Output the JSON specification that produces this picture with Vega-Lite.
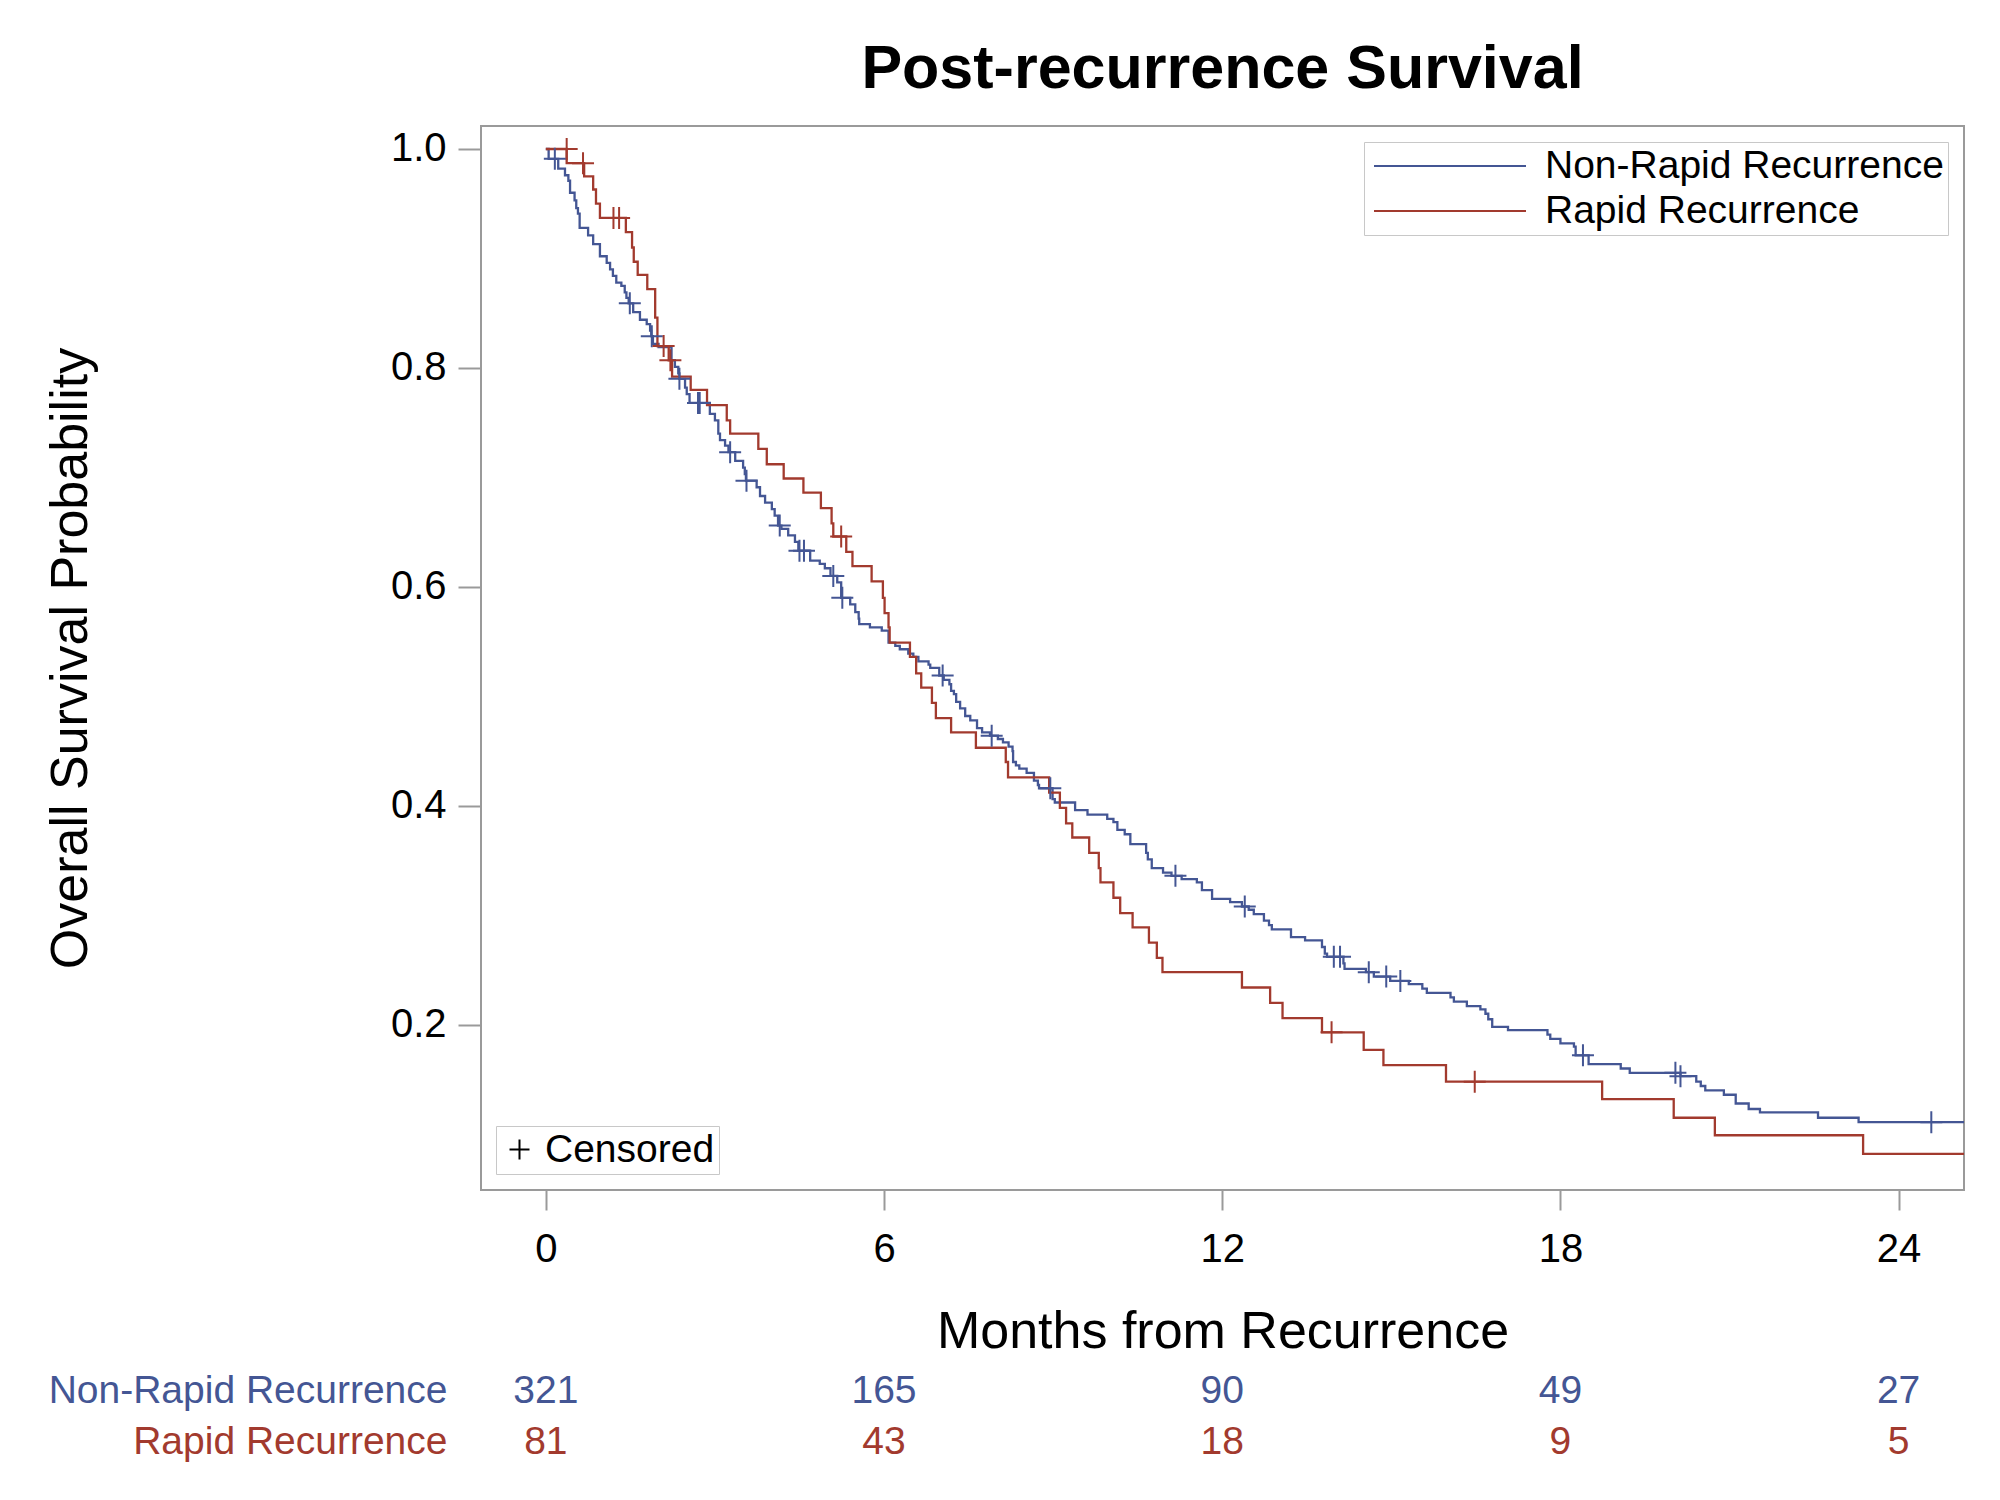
{
  "$schema": "https://vega.github.io/schema/vega-lite/v6.json",
  "description": "Kaplan-Meier curves of post-recurrence survival with numbers at risk",
  "background": "white",
  "padding": {"left": 43, "top": 38, "right": 30, "bottom": 20},
  "datasets": {
    "curves": [
      {"group": "Non-Rapid Recurrence", "month": 0, "survival": 1.0},
      {"group": "Non-Rapid Recurrence", "month": 0.05, "survival": 0.991},
      {"group": "Non-Rapid Recurrence", "month": 0.22, "survival": 0.982},
      {"group": "Non-Rapid Recurrence", "month": 0.34, "survival": 0.976},
      {"group": "Non-Rapid Recurrence", "month": 0.40, "survival": 0.971},
      {"group": "Non-Rapid Recurrence", "month": 0.43, "survival": 0.960},
      {"group": "Non-Rapid Recurrence", "month": 0.51, "survival": 0.953},
      {"group": "Non-Rapid Recurrence", "month": 0.54, "survival": 0.946},
      {"group": "Non-Rapid Recurrence", "month": 0.57, "survival": 0.941},
      {"group": "Non-Rapid Recurrence", "month": 0.60, "survival": 0.928},
      {"group": "Non-Rapid Recurrence", "month": 0.75, "survival": 0.921},
      {"group": "Non-Rapid Recurrence", "month": 0.84, "survival": 0.913},
      {"group": "Non-Rapid Recurrence", "month": 0.96, "survival": 0.902},
      {"group": "Non-Rapid Recurrence", "month": 1.08, "survival": 0.896},
      {"group": "Non-Rapid Recurrence", "month": 1.14, "survival": 0.890},
      {"group": "Non-Rapid Recurrence", "month": 1.19, "survival": 0.884},
      {"group": "Non-Rapid Recurrence", "month": 1.25, "survival": 0.878},
      {"group": "Non-Rapid Recurrence", "month": 1.34, "survival": 0.875},
      {"group": "Non-Rapid Recurrence", "month": 1.40, "survival": 0.869},
      {"group": "Non-Rapid Recurrence", "month": 1.43, "survival": 0.864},
      {"group": "Non-Rapid Recurrence", "month": 1.47, "survival": 0.859},
      {"group": "Non-Rapid Recurrence", "month": 1.55, "survival": 0.851},
      {"group": "Non-Rapid Recurrence", "month": 1.67, "survival": 0.844},
      {"group": "Non-Rapid Recurrence", "month": 1.79, "survival": 0.840},
      {"group": "Non-Rapid Recurrence", "month": 1.85, "survival": 0.834},
      {"group": "Non-Rapid Recurrence", "month": 1.87, "survival": 0.829},
      {"group": "Non-Rapid Recurrence", "month": 1.90, "survival": 0.822},
      {"group": "Non-Rapid Recurrence", "month": 2.00, "survival": 0.819},
      {"group": "Non-Rapid Recurrence", "month": 2.23, "survival": 0.807},
      {"group": "Non-Rapid Recurrence", "month": 2.29, "survival": 0.801},
      {"group": "Non-Rapid Recurrence", "month": 2.35, "survival": 0.795},
      {"group": "Non-Rapid Recurrence", "month": 2.37, "survival": 0.790},
      {"group": "Non-Rapid Recurrence", "month": 2.47, "survival": 0.782},
      {"group": "Non-Rapid Recurrence", "month": 2.50, "survival": 0.776},
      {"group": "Non-Rapid Recurrence", "month": 2.55, "survival": 0.768},
      {"group": "Non-Rapid Recurrence", "month": 2.91, "survival": 0.758},
      {"group": "Non-Rapid Recurrence", "month": 3.00, "survival": 0.752},
      {"group": "Non-Rapid Recurrence", "month": 3.06, "survival": 0.740},
      {"group": "Non-Rapid Recurrence", "month": 3.09, "survival": 0.734},
      {"group": "Non-Rapid Recurrence", "month": 3.18, "survival": 0.729},
      {"group": "Non-Rapid Recurrence", "month": 3.24, "survival": 0.723},
      {"group": "Non-Rapid Recurrence", "month": 3.36, "survival": 0.715},
      {"group": "Non-Rapid Recurrence", "month": 3.50, "survival": 0.709},
      {"group": "Non-Rapid Recurrence", "month": 3.53, "survival": 0.703},
      {"group": "Non-Rapid Recurrence", "month": 3.55, "survival": 0.697},
      {"group": "Non-Rapid Recurrence", "month": 3.74, "survival": 0.691},
      {"group": "Non-Rapid Recurrence", "month": 3.80, "survival": 0.683},
      {"group": "Non-Rapid Recurrence", "month": 3.89, "survival": 0.677},
      {"group": "Non-Rapid Recurrence", "month": 4.01, "survival": 0.671},
      {"group": "Non-Rapid Recurrence", "month": 4.06, "survival": 0.665},
      {"group": "Non-Rapid Recurrence", "month": 4.12, "survival": 0.656},
      {"group": "Non-Rapid Recurrence", "month": 4.18, "survival": 0.653},
      {"group": "Non-Rapid Recurrence", "month": 4.30, "survival": 0.647},
      {"group": "Non-Rapid Recurrence", "month": 4.42, "survival": 0.641},
      {"group": "Non-Rapid Recurrence", "month": 4.48, "survival": 0.633},
      {"group": "Non-Rapid Recurrence", "month": 4.69, "survival": 0.624},
      {"group": "Non-Rapid Recurrence", "month": 4.86, "survival": 0.621},
      {"group": "Non-Rapid Recurrence", "month": 4.95, "survival": 0.617},
      {"group": "Non-Rapid Recurrence", "month": 5.05, "survival": 0.610},
      {"group": "Non-Rapid Recurrence", "month": 5.17, "survival": 0.604},
      {"group": "Non-Rapid Recurrence", "month": 5.24, "survival": 0.590},
      {"group": "Non-Rapid Recurrence", "month": 5.40, "survival": 0.584},
      {"group": "Non-Rapid Recurrence", "month": 5.49, "survival": 0.577},
      {"group": "Non-Rapid Recurrence", "month": 5.55, "survival": 0.571},
      {"group": "Non-Rapid Recurrence", "month": 5.56, "survival": 0.566},
      {"group": "Non-Rapid Recurrence", "month": 5.75, "survival": 0.563},
      {"group": "Non-Rapid Recurrence", "month": 5.96, "survival": 0.560},
      {"group": "Non-Rapid Recurrence", "month": 6.08, "survival": 0.549},
      {"group": "Non-Rapid Recurrence", "month": 6.20, "survival": 0.546},
      {"group": "Non-Rapid Recurrence", "month": 6.28, "survival": 0.543},
      {"group": "Non-Rapid Recurrence", "month": 6.43, "survival": 0.539},
      {"group": "Non-Rapid Recurrence", "month": 6.52, "survival": 0.536},
      {"group": "Non-Rapid Recurrence", "month": 6.61, "survival": 0.532},
      {"group": "Non-Rapid Recurrence", "month": 6.79, "survival": 0.529},
      {"group": "Non-Rapid Recurrence", "month": 6.82, "survival": 0.526},
      {"group": "Non-Rapid Recurrence", "month": 6.98, "survival": 0.519},
      {"group": "Non-Rapid Recurrence", "month": 7.06, "survival": 0.515},
      {"group": "Non-Rapid Recurrence", "month": 7.16, "survival": 0.511},
      {"group": "Non-Rapid Recurrence", "month": 7.19, "survival": 0.505},
      {"group": "Non-Rapid Recurrence", "month": 7.24, "survival": 0.502},
      {"group": "Non-Rapid Recurrence", "month": 7.28, "survival": 0.495},
      {"group": "Non-Rapid Recurrence", "month": 7.35, "survival": 0.489},
      {"group": "Non-Rapid Recurrence", "month": 7.44, "survival": 0.482},
      {"group": "Non-Rapid Recurrence", "month": 7.53, "survival": 0.478},
      {"group": "Non-Rapid Recurrence", "month": 7.65, "survival": 0.471},
      {"group": "Non-Rapid Recurrence", "month": 7.74, "survival": 0.467},
      {"group": "Non-Rapid Recurrence", "month": 7.88, "survival": 0.464},
      {"group": "Non-Rapid Recurrence", "month": 8.02, "survival": 0.461},
      {"group": "Non-Rapid Recurrence", "month": 8.11, "survival": 0.458},
      {"group": "Non-Rapid Recurrence", "month": 8.21, "survival": 0.454},
      {"group": "Non-Rapid Recurrence", "month": 8.28, "survival": 0.450},
      {"group": "Non-Rapid Recurrence", "month": 8.29, "survival": 0.440},
      {"group": "Non-Rapid Recurrence", "month": 8.34, "survival": 0.437},
      {"group": "Non-Rapid Recurrence", "month": 8.40, "survival": 0.434},
      {"group": "Non-Rapid Recurrence", "month": 8.53, "survival": 0.430},
      {"group": "Non-Rapid Recurrence", "month": 8.66, "survival": 0.423},
      {"group": "Non-Rapid Recurrence", "month": 8.73, "survival": 0.419},
      {"group": "Non-Rapid Recurrence", "month": 8.75, "survival": 0.416},
      {"group": "Non-Rapid Recurrence", "month": 8.99, "survival": 0.406},
      {"group": "Non-Rapid Recurrence", "month": 9.03, "survival": 0.403},
      {"group": "Non-Rapid Recurrence", "month": 9.39, "survival": 0.396},
      {"group": "Non-Rapid Recurrence", "month": 9.61, "survival": 0.392},
      {"group": "Non-Rapid Recurrence", "month": 9.96, "survival": 0.388},
      {"group": "Non-Rapid Recurrence", "month": 10.07, "survival": 0.385},
      {"group": "Non-Rapid Recurrence", "month": 10.14, "survival": 0.378},
      {"group": "Non-Rapid Recurrence", "month": 10.27, "survival": 0.374},
      {"group": "Non-Rapid Recurrence", "month": 10.37, "survival": 0.365},
      {"group": "Non-Rapid Recurrence", "month": 10.65, "survival": 0.357},
      {"group": "Non-Rapid Recurrence", "month": 10.68, "survival": 0.351},
      {"group": "Non-Rapid Recurrence", "month": 10.75, "survival": 0.343},
      {"group": "Non-Rapid Recurrence", "month": 10.95, "survival": 0.339},
      {"group": "Non-Rapid Recurrence", "month": 11.10, "survival": 0.336},
      {"group": "Non-Rapid Recurrence", "month": 11.28, "survival": 0.333},
      {"group": "Non-Rapid Recurrence", "month": 11.55, "survival": 0.330},
      {"group": "Non-Rapid Recurrence", "month": 11.64, "survival": 0.323},
      {"group": "Non-Rapid Recurrence", "month": 11.82, "survival": 0.315},
      {"group": "Non-Rapid Recurrence", "month": 12.14, "survival": 0.312},
      {"group": "Non-Rapid Recurrence", "month": 12.35, "survival": 0.308},
      {"group": "Non-Rapid Recurrence", "month": 12.47, "survival": 0.305},
      {"group": "Non-Rapid Recurrence", "month": 12.56, "survival": 0.301},
      {"group": "Non-Rapid Recurrence", "month": 12.74, "survival": 0.295},
      {"group": "Non-Rapid Recurrence", "month": 12.83, "survival": 0.291},
      {"group": "Non-Rapid Recurrence", "month": 12.88, "survival": 0.287},
      {"group": "Non-Rapid Recurrence", "month": 13.22, "survival": 0.280},
      {"group": "Non-Rapid Recurrence", "month": 13.47, "survival": 0.277},
      {"group": "Non-Rapid Recurrence", "month": 13.77, "survival": 0.271},
      {"group": "Non-Rapid Recurrence", "month": 13.82, "survival": 0.265},
      {"group": "Non-Rapid Recurrence", "month": 13.86, "survival": 0.262},
      {"group": "Non-Rapid Recurrence", "month": 14.15, "survival": 0.256},
      {"group": "Non-Rapid Recurrence", "month": 14.17, "survival": 0.251},
      {"group": "Non-Rapid Recurrence", "month": 14.55, "survival": 0.248},
      {"group": "Non-Rapid Recurrence", "month": 14.69, "survival": 0.244},
      {"group": "Non-Rapid Recurrence", "month": 14.98, "survival": 0.240},
      {"group": "Non-Rapid Recurrence", "month": 15.31, "survival": 0.237},
      {"group": "Non-Rapid Recurrence", "month": 15.55, "survival": 0.233},
      {"group": "Non-Rapid Recurrence", "month": 15.63, "survival": 0.229},
      {"group": "Non-Rapid Recurrence", "month": 16.05, "survival": 0.225},
      {"group": "Non-Rapid Recurrence", "month": 16.11, "survival": 0.221},
      {"group": "Non-Rapid Recurrence", "month": 16.34, "survival": 0.217},
      {"group": "Non-Rapid Recurrence", "month": 16.58, "survival": 0.214},
      {"group": "Non-Rapid Recurrence", "month": 16.67, "survival": 0.210},
      {"group": "Non-Rapid Recurrence", "month": 16.72, "survival": 0.205},
      {"group": "Non-Rapid Recurrence", "month": 16.79, "survival": 0.198},
      {"group": "Non-Rapid Recurrence", "month": 17.07, "survival": 0.195},
      {"group": "Non-Rapid Recurrence", "month": 17.77, "survival": 0.191},
      {"group": "Non-Rapid Recurrence", "month": 17.82, "survival": 0.187},
      {"group": "Non-Rapid Recurrence", "month": 18.00, "survival": 0.183},
      {"group": "Non-Rapid Recurrence", "month": 18.24, "survival": 0.180},
      {"group": "Non-Rapid Recurrence", "month": 18.27, "survival": 0.172},
      {"group": "Non-Rapid Recurrence", "month": 18.50, "survival": 0.164},
      {"group": "Non-Rapid Recurrence", "month": 19.07, "survival": 0.160},
      {"group": "Non-Rapid Recurrence", "month": 19.23, "survival": 0.156},
      {"group": "Non-Rapid Recurrence", "month": 20.13, "survival": 0.153},
      {"group": "Non-Rapid Recurrence", "month": 20.41, "survival": 0.148},
      {"group": "Non-Rapid Recurrence", "month": 20.49, "survival": 0.144},
      {"group": "Non-Rapid Recurrence", "month": 20.57, "survival": 0.140},
      {"group": "Non-Rapid Recurrence", "month": 20.90, "survival": 0.136},
      {"group": "Non-Rapid Recurrence", "month": 21.11, "survival": 0.128},
      {"group": "Non-Rapid Recurrence", "month": 21.34, "survival": 0.123},
      {"group": "Non-Rapid Recurrence", "month": 21.54, "survival": 0.120},
      {"group": "Non-Rapid Recurrence", "month": 22.57, "survival": 0.115},
      {"group": "Non-Rapid Recurrence", "month": 23.29, "survival": 0.111},
      {"group": "Non-Rapid Recurrence", "month": 25.16, "survival": 0.111},
      {"group": "Rapid Recurrence", "month": 0, "survival": 1.0},
      {"group": "Rapid Recurrence", "month": 0.37, "survival": 0.987},
      {"group": "Rapid Recurrence", "month": 0.68, "survival": 0.975},
      {"group": "Rapid Recurrence", "month": 0.84, "survival": 0.963},
      {"group": "Rapid Recurrence", "month": 0.89, "survival": 0.950},
      {"group": "Rapid Recurrence", "month": 0.96, "survival": 0.937},
      {"group": "Rapid Recurrence", "month": 1.42, "survival": 0.924},
      {"group": "Rapid Recurrence", "month": 1.53, "survival": 0.910},
      {"group": "Rapid Recurrence", "month": 1.56, "survival": 0.897},
      {"group": "Rapid Recurrence", "month": 1.63, "survival": 0.885},
      {"group": "Rapid Recurrence", "month": 1.80, "survival": 0.872},
      {"group": "Rapid Recurrence", "month": 1.94, "survival": 0.846},
      {"group": "Rapid Recurrence", "month": 1.98, "survival": 0.820},
      {"group": "Rapid Recurrence", "month": 2.18, "survival": 0.807},
      {"group": "Rapid Recurrence", "month": 2.24, "survival": 0.792},
      {"group": "Rapid Recurrence", "month": 2.57, "survival": 0.780},
      {"group": "Rapid Recurrence", "month": 2.86, "survival": 0.766},
      {"group": "Rapid Recurrence", "month": 3.21, "survival": 0.752},
      {"group": "Rapid Recurrence", "month": 3.27, "survival": 0.740},
      {"group": "Rapid Recurrence", "month": 3.77, "survival": 0.726},
      {"group": "Rapid Recurrence", "month": 3.92, "survival": 0.712},
      {"group": "Rapid Recurrence", "month": 4.22, "survival": 0.699},
      {"group": "Rapid Recurrence", "month": 4.57, "survival": 0.686},
      {"group": "Rapid Recurrence", "month": 4.88, "survival": 0.672},
      {"group": "Rapid Recurrence", "month": 5.07, "survival": 0.658},
      {"group": "Rapid Recurrence", "month": 5.10, "survival": 0.646},
      {"group": "Rapid Recurrence", "month": 5.33, "survival": 0.632},
      {"group": "Rapid Recurrence", "month": 5.44, "survival": 0.619},
      {"group": "Rapid Recurrence", "month": 5.78, "survival": 0.605},
      {"group": "Rapid Recurrence", "month": 5.98, "survival": 0.590},
      {"group": "Rapid Recurrence", "month": 6.01, "survival": 0.576},
      {"group": "Rapid Recurrence", "month": 6.08, "survival": 0.563},
      {"group": "Rapid Recurrence", "month": 6.10, "survival": 0.549},
      {"group": "Rapid Recurrence", "month": 6.46, "survival": 0.536},
      {"group": "Rapid Recurrence", "month": 6.57, "survival": 0.521},
      {"group": "Rapid Recurrence", "month": 6.66, "survival": 0.508},
      {"group": "Rapid Recurrence", "month": 6.85, "survival": 0.494},
      {"group": "Rapid Recurrence", "month": 6.92, "survival": 0.480},
      {"group": "Rapid Recurrence", "month": 7.19, "survival": 0.467},
      {"group": "Rapid Recurrence", "month": 7.63, "survival": 0.453},
      {"group": "Rapid Recurrence", "month": 8.16, "survival": 0.440},
      {"group": "Rapid Recurrence", "month": 8.20, "survival": 0.426},
      {"group": "Rapid Recurrence", "month": 8.93, "survival": 0.412},
      {"group": "Rapid Recurrence", "month": 9.12, "survival": 0.398},
      {"group": "Rapid Recurrence", "month": 9.23, "survival": 0.384},
      {"group": "Rapid Recurrence", "month": 9.34, "survival": 0.371},
      {"group": "Rapid Recurrence", "month": 9.64, "survival": 0.357},
      {"group": "Rapid Recurrence", "month": 9.81, "survival": 0.343},
      {"group": "Rapid Recurrence", "month": 9.84, "survival": 0.330},
      {"group": "Rapid Recurrence", "month": 10.07, "survival": 0.316},
      {"group": "Rapid Recurrence", "month": 10.19, "survival": 0.302},
      {"group": "Rapid Recurrence", "month": 10.41, "survival": 0.289},
      {"group": "Rapid Recurrence", "month": 10.70, "survival": 0.275},
      {"group": "Rapid Recurrence", "month": 10.84, "survival": 0.261},
      {"group": "Rapid Recurrence", "month": 10.94, "survival": 0.248},
      {"group": "Rapid Recurrence", "month": 12.35, "survival": 0.234},
      {"group": "Rapid Recurrence", "month": 12.85, "survival": 0.220},
      {"group": "Rapid Recurrence", "month": 13.07, "survival": 0.206},
      {"group": "Rapid Recurrence", "month": 13.77, "survival": 0.193},
      {"group": "Rapid Recurrence", "month": 14.51, "survival": 0.177},
      {"group": "Rapid Recurrence", "month": 14.86, "survival": 0.163},
      {"group": "Rapid Recurrence", "month": 15.97, "survival": 0.148},
      {"group": "Rapid Recurrence", "month": 18.74, "survival": 0.132},
      {"group": "Rapid Recurrence", "month": 20.01, "survival": 0.115},
      {"group": "Rapid Recurrence", "month": 20.74, "survival": 0.099},
      {"group": "Rapid Recurrence", "month": 23.37, "survival": 0.082},
      {"group": "Rapid Recurrence", "month": 25.16, "survival": 0.082}
    ],
    "censored": [
      {"group": "Non-Rapid Recurrence", "month": 0.16, "survival": 0.991},
      {"group": "Non-Rapid Recurrence", "month": 1.49, "survival": 0.859},
      {"group": "Non-Rapid Recurrence", "month": 1.88, "survival": 0.829},
      {"group": "Non-Rapid Recurrence", "month": 2.37, "survival": 0.790},
      {"group": "Non-Rapid Recurrence", "month": 2.70, "survival": 0.768},
      {"group": "Non-Rapid Recurrence", "month": 2.73, "survival": 0.768},
      {"group": "Non-Rapid Recurrence", "month": 3.27, "survival": 0.723},
      {"group": "Non-Rapid Recurrence", "month": 3.56, "survival": 0.697},
      {"group": "Non-Rapid Recurrence", "month": 4.15, "survival": 0.656},
      {"group": "Non-Rapid Recurrence", "month": 4.50, "survival": 0.633},
      {"group": "Non-Rapid Recurrence", "month": 4.58, "survival": 0.633},
      {"group": "Non-Rapid Recurrence", "month": 5.10, "survival": 0.610},
      {"group": "Non-Rapid Recurrence", "month": 5.26, "survival": 0.590},
      {"group": "Non-Rapid Recurrence", "month": 7.04, "survival": 0.519},
      {"group": "Non-Rapid Recurrence", "month": 7.91, "survival": 0.464},
      {"group": "Non-Rapid Recurrence", "month": 8.95, "survival": 0.416},
      {"group": "Non-Rapid Recurrence", "month": 11.17, "survival": 0.336},
      {"group": "Non-Rapid Recurrence", "month": 12.40, "survival": 0.308},
      {"group": "Non-Rapid Recurrence", "month": 13.98, "survival": 0.262},
      {"group": "Non-Rapid Recurrence", "month": 14.09, "survival": 0.262},
      {"group": "Non-Rapid Recurrence", "month": 14.60, "survival": 0.248},
      {"group": "Non-Rapid Recurrence", "month": 14.91, "survival": 0.244},
      {"group": "Non-Rapid Recurrence", "month": 15.16, "survival": 0.240},
      {"group": "Non-Rapid Recurrence", "month": 18.40, "survival": 0.172},
      {"group": "Non-Rapid Recurrence", "month": 20.04, "survival": 0.156},
      {"group": "Non-Rapid Recurrence", "month": 20.13, "survival": 0.153},
      {"group": "Non-Rapid Recurrence", "month": 24.58, "survival": 0.111},
      {"group": "Rapid Recurrence", "month": 0.37, "survival": 1.0},
      {"group": "Rapid Recurrence", "month": 0.66, "survival": 0.987},
      {"group": "Rapid Recurrence", "month": 1.20, "survival": 0.937},
      {"group": "Rapid Recurrence", "month": 1.30, "survival": 0.937},
      {"group": "Rapid Recurrence", "month": 2.09, "survival": 0.820},
      {"group": "Rapid Recurrence", "month": 2.21, "survival": 0.807},
      {"group": "Rapid Recurrence", "month": 5.24, "survival": 0.646},
      {"group": "Rapid Recurrence", "month": 13.94, "survival": 0.193},
      {"group": "Rapid Recurrence", "month": 16.48, "survival": 0.148}
    ],
    "atrisk": [
      {"group": "Non-Rapid Recurrence", "month": 0, "atrisk": 321},
      {"group": "Non-Rapid Recurrence", "month": 6, "atrisk": 165},
      {"group": "Non-Rapid Recurrence", "month": 12, "atrisk": 90},
      {"group": "Non-Rapid Recurrence", "month": 18, "atrisk": 49},
      {"group": "Non-Rapid Recurrence", "month": 24, "atrisk": 27},
      {"group": "Rapid Recurrence", "month": 0, "atrisk": 81},
      {"group": "Rapid Recurrence", "month": 6, "atrisk": 43},
      {"group": "Rapid Recurrence", "month": 12, "atrisk": 18},
      {"group": "Rapid Recurrence", "month": 18, "atrisk": 9},
      {"group": "Rapid Recurrence", "month": 24, "atrisk": 5}
    ]
  },
  "bounds": "flush",
  "spacing": 175,
  "resolve": {
    "scale": {"color": "independent", "x": "independent"},
    "legend": {"color": "independent"}
  },
  "vconcat": [
    {
      "width": 1483,
      "height": 1064,
      "title": {
        "text": "Post-recurrence Survival",
        "fontSize": 61,
        "fontWeight": "bold",
        "anchor": "middle",
        "offset": 25,
        "color": "black"
      },
      "layer": [
        {
          "data": {"name": "curves"},
          "mark": {"type": "line", "interpolate": "step-after", "strokeWidth": 2.3, "clip": true},
          "encoding": {
            "x": {
              "field": "month",
              "type": "quantitative",
              "scale": {"domain": [-1.15, 25.16], "nice": false, "zero": false},
              "axis": {
                "values": [0, 6, 12, 18, 24],
                "format": "d",
                "title": "Months from Recurrence",
                "titleFontSize": 52,
                "titleFontWeight": "normal",
                "titlePadding": 37,
                "labelFontSize": 40,
                "labelPadding": 19,
                "tickSize": 20,
                "tickWidth": 2,
                "tickColor": "#9a9a9a",
                "domain": false,
                "grid": false
              }
            },
            "y": {
              "field": "survival",
              "type": "quantitative",
              "scale": {"domain": [0.049, 1.021], "nice": false, "zero": false},
              "axis": {
                "values": [0.2, 0.4, 0.6, 0.8, 1.0],
                "format": ".1f",
                "title": "Overall Survival Probability",
                "titleFontSize": 52,
                "titleFontWeight": "normal",
                "titlePadding": 293,
                "labelFontSize": 40,
                "labelPadding": 12,
                "tickSize": 23,
                "tickWidth": 2,
                "tickColor": "#9a9a9a",
                "domain": false,
                "grid": false
              }
            },
            "color": {
              "field": "group",
              "type": "nominal",
              "scale": {
                "domain": ["Non-Rapid Recurrence", "Rapid Recurrence"],
                "range": ["#445694", "#A23A2E"]
              },
              "legend": {
                "title": null,
                "orient": "top-right",
                "offset": 16,
                "padding": 4,
                "fillColor": "white",
                "strokeColor": "#c8c8c8",
                "symbolType": "M-4,0L4,0",
                "symbolSize": 1444,
                "symbolOffset": 62,
                "symbolStrokeWidth": 2,
                "labelFontSize": 39,
                "labelOffset": 75,
                "labelLimit": 1000,
                "labelExpr": "datum.label + '\u00a0'",
                "rowPadding": 5
              }
            }
          }
        },
        {
          "data": {"name": "censored"},
          "mark": {"type": "point", "filled": false, "strokeWidth": 2, "size": 484, "opacity": 1},
          "encoding": {
            "x": {"field": "month", "type": "quantitative"},
            "y": {"field": "survival", "type": "quantitative"},
            "stroke": {
              "field": "group",
              "type": "nominal",
              "scale": {
                "domain": ["Non-Rapid Recurrence", "Rapid Recurrence"],
                "range": ["#445694", "#A23A2E"]
              },
              "legend": null
            },
            "shape": {
              "datum": "Censored",
              "scale": {"range": ["M-1,0L1,0M0,-1L0,1"]},
              "legend": {
                "title": null,
                "orient": "none",
                "legendX": 15,
                "legendY": 1000,
                "padding": 4,
                "fillColor": "white",
                "strokeColor": "#c8c8c8",
                "symbolSize": 400,
                "symbolStrokeColor": "black",
                "symbolFillColor": "transparent",
                "symbolStrokeWidth": 2,
                "labelFontSize": 39,
                "labelOffset": 6,
                "labelLimit": 1000
              }
            }
          }
        }
      ]
    },
    {
      "data": {"name": "atrisk"},
      "width": 1483,
      "height": 102,
      "view": {"stroke": null},
      "mark": {"type": "text", "fontSize": 39, "align": "center", "baseline": "middle"},
      "encoding": {
        "x": {
          "field": "month",
          "type": "quantitative",
          "scale": {"domain": [-1.15, 25.16], "nice": false, "zero": false},
          "axis": null
        },
        "y": {
          "field": "group",
          "type": "nominal",
          "scale": {
            "domain": ["Non-Rapid Recurrence", "Rapid Recurrence"],
            "paddingInner": 0,
            "paddingOuter": 0
          },
          "axis": {
            "title": null,
            "domain": false,
            "ticks": false,
            "labelFontSize": 39,
            "labelPadding": 34,
            "labelLimit": 1000,
            "labelColor": {
              "condition": {"test": "datum.value === 'Rapid Recurrence'", "value": "#A23A2E"},
              "value": "#445694"
            }
          }
        },
        "color": {
          "field": "group",
          "type": "nominal",
          "scale": {
            "domain": ["Non-Rapid Recurrence", "Rapid Recurrence"],
            "range": ["#445694", "#A23A2E"]
          },
          "legend": null
        },
        "text": {"field": "atrisk", "type": "quantitative"}
      }
    }
  ],
  "config": {
    "font": "Liberation Sans",
    "view": {"stroke": "#9a9a9a", "strokeWidth": 2},
    "axis": {"labelColor": "black", "titleColor": "black", "labelFont": "Liberation Sans", "titleFont": "Liberation Sans"},
    "legend": {"labelColor": "black", "labelFont": "Liberation Sans"}
  }
}
